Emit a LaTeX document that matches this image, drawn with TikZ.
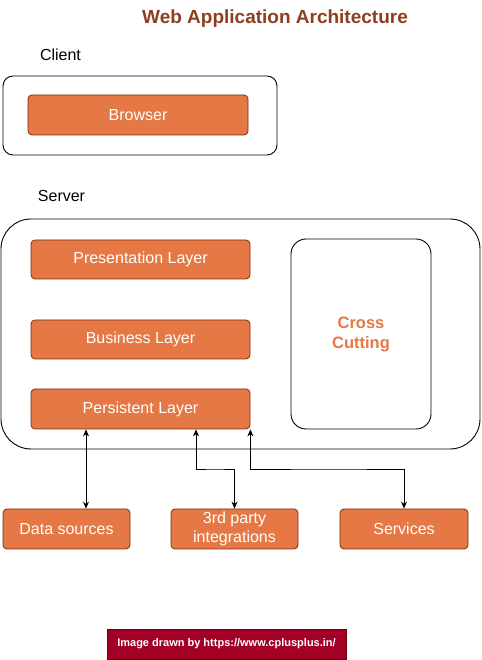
\documentclass[tikz,border=0pt]{standalone}
\usepackage{fontspec}
\setmainfont{Liberation Sans}
\usepackage{tikz}
\usetikzlibrary{arrows.meta}
\usepackage{xcolor}
\definecolor{layerfill}{HTML}{E57844}
\definecolor{layerline}{HTML}{7A2E10}
\definecolor{titlebrown}{HTML}{8E3E1F}
\definecolor{footfill}{HTML}{A20025}
\definecolor{footline}{HTML}{6F0000}

\begin{document}
\begin{tikzpicture}[x=1pt, y=1pt,
        layer/.style={draw=layerline, fill=layerfill, rounded corners=4pt, line width=0.8pt,
            text=white, inner sep=0pt, font=\fontsize{16}{19.5}\selectfont, align=center},
        frame/.style={draw=black, line width=0.9pt},
        link/.style={{Stealth[length=7pt,width=6pt]}-{Stealth[length=7pt,width=6pt]}, line width=0.9pt}]
        % Page
        \useasboundingbox[fill=white] (0,0) rectangle (481,660);
        % Title
        \node (title) at (275,641) [text=titlebrown, font=\fontsize{19}{22}\selectfont\bfseries] 
            {Web Application Architecture};
        
        % Client side
        \node (clientlbl) at (60.5,605) [font=\fontsize{16}{18}\selectfont] {Client};
        \draw[frame, rounded corners=10pt] (3,505) rectangle (277,584);
        \node (browser) at (138,545) [layer, minimum width=220pt, minimum height=40pt] {Browser};
        
        % Server side
        \node (serverlbl) at (61.5,464) [font=\fontsize{16}{18}\selectfont] {Server};
        \draw[frame, rounded corners=30pt] (1,211) rectangle (480,441);
        \node (pres) at (140.5,400.5) [layer, minimum width=219pt, minimum height=39pt] 
            {Presentation Layer};
        \node (bus) at (140.5,320.5) [layer, minimum width=219pt, minimum height=39pt] 
            {Business Layer};
        \node (pers) at (140.5,251) [layer, minimum width=219pt, minimum height=40pt] 
            {Persistent Layer};
        \node (cross) at (361,326) [frame, rounded corners=15pt, minimum width=140pt, minimum height=190pt, 
            align=center, text=layerfill, font=\fontsize{16.5}{20}\selectfont\bfseries] 
            {Cross\\Cutting};
        
        % External systems
        \node (data) at (66.5,131) [layer, minimum width=127pt, minimum height=40pt] {Data sources};
        \node (third) at (234.5,131) [layer, minimum width=127pt, minimum height=40pt] 
            {3rd party\\integrations};
        \node (serv) at (404,131) [layer, minimum width=128pt, minimum height=40pt] {Services};
        
        % Links from the persistent layer
        \draw[link] ([xshift=-54.5pt]pers.south) -- ([xshift=19.5pt]data.north);
        \draw[link] ([xshift=55.5pt]pers.south) |- (215,191) -| (third.north);
        \draw[link] (pers.south east) |- (330,191) -| (serv.north);
        
        % Footer
        \node (foot) at (226.5,16) [draw=footline, fill=footfill, text=white, line width=0.8pt,
            minimum width=239pt, minimum height=30pt, inner sep=0pt, 
            font=\fontsize{11}{13}\selectfont\bfseries] {Image drawn by https://www.cplusplus.in/};
\end{tikzpicture}
\end{document}
